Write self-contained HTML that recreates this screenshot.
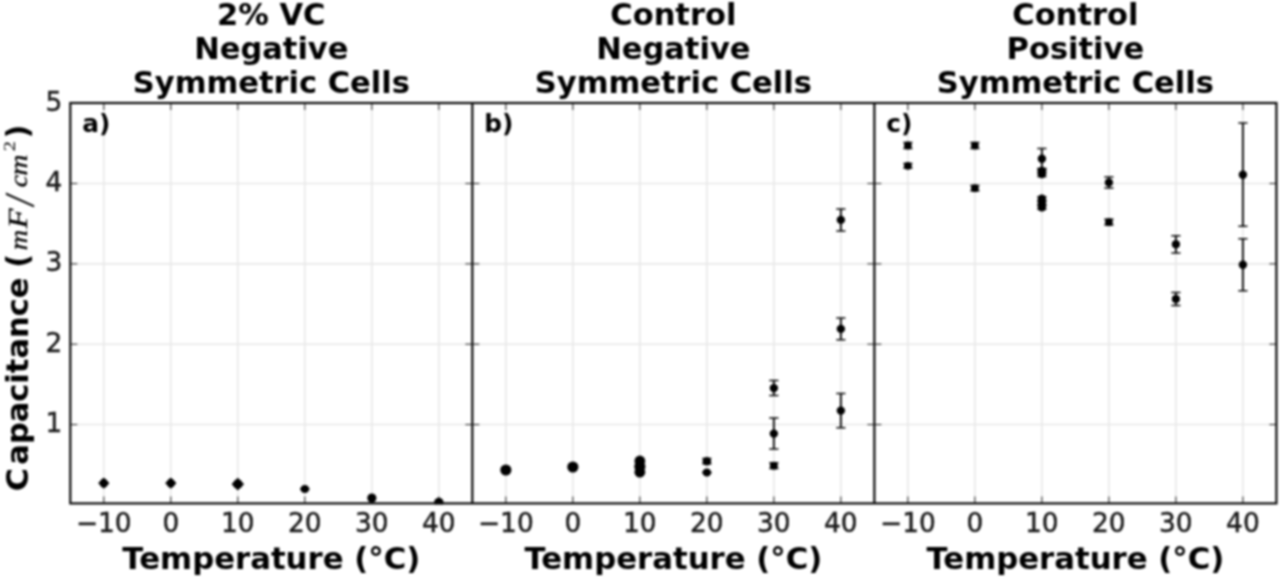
<!DOCTYPE html>
<html lang="en"><head><meta charset="utf-8"><title>Capacitance vs Temperature</title>
<style>html,body{margin:0;padding:0;background:#fff}body{width:1280px;height:578px;overflow:hidden}svg{display:block;filter:blur(0.8px)}</style>
</head><body>
<svg width="1280" height="578" viewBox="0 0 1280 578">
<rect width="1280" height="578" fill="#fff"/>
<g stroke="#e8e8e8" stroke-width="1.6" fill="none">
<line x1="103.80" y1="103.0" x2="103.80" y2="503.4"/>
<line x1="170.81" y1="103.0" x2="170.81" y2="503.4"/>
<line x1="237.81" y1="103.0" x2="237.81" y2="503.4"/>
<line x1="304.82" y1="103.0" x2="304.82" y2="503.4"/>
<line x1="371.83" y1="103.0" x2="371.83" y2="503.4"/>
<line x1="438.83" y1="103.0" x2="438.83" y2="503.4"/>
<line x1="505.84" y1="103.0" x2="505.84" y2="503.4"/>
<line x1="572.84" y1="103.0" x2="572.84" y2="503.4"/>
<line x1="639.85" y1="103.0" x2="639.85" y2="503.4"/>
<line x1="706.85" y1="103.0" x2="706.85" y2="503.4"/>
<line x1="773.86" y1="103.0" x2="773.86" y2="503.4"/>
<line x1="840.86" y1="103.0" x2="840.86" y2="503.4"/>
<line x1="907.87" y1="103.0" x2="907.87" y2="503.4"/>
<line x1="974.88" y1="103.0" x2="974.88" y2="503.4"/>
<line x1="1041.88" y1="103.0" x2="1041.88" y2="503.4"/>
<line x1="1108.89" y1="103.0" x2="1108.89" y2="503.4"/>
<line x1="1175.89" y1="103.0" x2="1175.89" y2="503.4"/>
<line x1="1242.90" y1="103.0" x2="1242.90" y2="503.4"/>
<line x1="70.3" y1="424.55" x2="1276.4" y2="424.55"/>
<line x1="70.3" y1="344.20" x2="1276.4" y2="344.20"/>
<line x1="70.3" y1="263.85" x2="1276.4" y2="263.85"/>
<line x1="70.3" y1="183.50" x2="1276.4" y2="183.50"/>
</g>
<g stroke="#333" stroke-width="1.1" fill="none">
<line x1="103.80" y1="103.0" x2="103.80" y2="110.0"/>
<line x1="103.80" y1="503.4" x2="103.80" y2="496.4"/>
<line x1="170.81" y1="103.0" x2="170.81" y2="110.0"/>
<line x1="170.81" y1="503.4" x2="170.81" y2="496.4"/>
<line x1="237.81" y1="103.0" x2="237.81" y2="110.0"/>
<line x1="237.81" y1="503.4" x2="237.81" y2="496.4"/>
<line x1="304.82" y1="103.0" x2="304.82" y2="110.0"/>
<line x1="304.82" y1="503.4" x2="304.82" y2="496.4"/>
<line x1="371.83" y1="103.0" x2="371.83" y2="110.0"/>
<line x1="371.83" y1="503.4" x2="371.83" y2="496.4"/>
<line x1="438.83" y1="103.0" x2="438.83" y2="110.0"/>
<line x1="438.83" y1="503.4" x2="438.83" y2="496.4"/>
<line x1="70.30" y1="424.55" x2="77.30" y2="424.55"/>
<line x1="472.33" y1="424.55" x2="465.33" y2="424.55"/>
<line x1="70.30" y1="344.20" x2="77.30" y2="344.20"/>
<line x1="472.33" y1="344.20" x2="465.33" y2="344.20"/>
<line x1="70.30" y1="263.85" x2="77.30" y2="263.85"/>
<line x1="472.33" y1="263.85" x2="465.33" y2="263.85"/>
<line x1="70.30" y1="183.50" x2="77.30" y2="183.50"/>
<line x1="472.33" y1="183.50" x2="465.33" y2="183.50"/>
<line x1="505.84" y1="103.0" x2="505.84" y2="110.0"/>
<line x1="505.84" y1="503.4" x2="505.84" y2="496.4"/>
<line x1="572.84" y1="103.0" x2="572.84" y2="110.0"/>
<line x1="572.84" y1="503.4" x2="572.84" y2="496.4"/>
<line x1="639.85" y1="103.0" x2="639.85" y2="110.0"/>
<line x1="639.85" y1="503.4" x2="639.85" y2="496.4"/>
<line x1="706.85" y1="103.0" x2="706.85" y2="110.0"/>
<line x1="706.85" y1="503.4" x2="706.85" y2="496.4"/>
<line x1="773.86" y1="103.0" x2="773.86" y2="110.0"/>
<line x1="773.86" y1="503.4" x2="773.86" y2="496.4"/>
<line x1="840.86" y1="103.0" x2="840.86" y2="110.0"/>
<line x1="840.86" y1="503.4" x2="840.86" y2="496.4"/>
<line x1="472.33" y1="424.55" x2="479.33" y2="424.55"/>
<line x1="874.37" y1="424.55" x2="867.37" y2="424.55"/>
<line x1="472.33" y1="344.20" x2="479.33" y2="344.20"/>
<line x1="874.37" y1="344.20" x2="867.37" y2="344.20"/>
<line x1="472.33" y1="263.85" x2="479.33" y2="263.85"/>
<line x1="874.37" y1="263.85" x2="867.37" y2="263.85"/>
<line x1="472.33" y1="183.50" x2="479.33" y2="183.50"/>
<line x1="874.37" y1="183.50" x2="867.37" y2="183.50"/>
<line x1="907.87" y1="103.0" x2="907.87" y2="110.0"/>
<line x1="907.87" y1="503.4" x2="907.87" y2="496.4"/>
<line x1="974.88" y1="103.0" x2="974.88" y2="110.0"/>
<line x1="974.88" y1="503.4" x2="974.88" y2="496.4"/>
<line x1="1041.88" y1="103.0" x2="1041.88" y2="110.0"/>
<line x1="1041.88" y1="503.4" x2="1041.88" y2="496.4"/>
<line x1="1108.89" y1="103.0" x2="1108.89" y2="110.0"/>
<line x1="1108.89" y1="503.4" x2="1108.89" y2="496.4"/>
<line x1="1175.89" y1="103.0" x2="1175.89" y2="110.0"/>
<line x1="1175.89" y1="503.4" x2="1175.89" y2="496.4"/>
<line x1="1242.90" y1="103.0" x2="1242.90" y2="110.0"/>
<line x1="1242.90" y1="503.4" x2="1242.90" y2="496.4"/>
<line x1="874.37" y1="424.55" x2="881.37" y2="424.55"/>
<line x1="1276.40" y1="424.55" x2="1269.40" y2="424.55"/>
<line x1="874.37" y1="344.20" x2="881.37" y2="344.20"/>
<line x1="1276.40" y1="344.20" x2="1269.40" y2="344.20"/>
<line x1="874.37" y1="263.85" x2="881.37" y2="263.85"/>
<line x1="1276.40" y1="263.85" x2="1269.40" y2="263.85"/>
<line x1="874.37" y1="183.50" x2="881.37" y2="183.50"/>
<line x1="1276.40" y1="183.50" x2="1269.40" y2="183.50"/>
</g>
<defs><clipPath id="clip"><rect x="70.30" y="103.00" width="1206.10" height="401.40"/></clipPath></defs>
<g clip-path="url(#clip)">
<g stroke="#0a0a0a" stroke-width="1.5" fill="none">
<path d="M103.80 477.90V488.30M98.60 483.10H109.00" stroke-width="2.4"/>
<path d="M170.81 477.90V488.30M165.61 483.10H176.01" stroke-width="2.4"/>
<path d="M237.81 478.30V489.90M232.01 484.10H243.61" stroke-width="2.4"/>
<path d="M304.82 488.60V489.40" stroke-width="1.9"/><path d="M300.22 488.60H309.42M300.22 489.40H309.42"/>
<path d="M706.85 458.60V463.80" stroke-width="1.9"/><path d="M702.25 458.60H711.45M702.25 463.80H711.45"/>
<path d="M706.85 471.90V473.10" stroke-width="1.9"/><path d="M702.25 471.90H711.45M702.25 473.10H711.45"/>
<path d="M773.86 380.60V395.60" stroke-width="1.9"/><path d="M769.26 380.60H778.46M769.26 395.60H778.46"/>
<path d="M773.86 418.10V449.10" stroke-width="1.9"/><path d="M769.26 418.10H778.46M769.26 449.10H778.46"/>
<path d="M773.86 462.80V468.60" stroke-width="1.9"/><path d="M769.26 462.80H778.46M769.26 468.60H778.46"/>
<path d="M840.86 208.90V230.90" stroke-width="1.9"/><path d="M836.26 208.90H845.46M836.26 230.90H845.46"/>
<path d="M840.86 318.10V339.70" stroke-width="1.9"/><path d="M836.26 318.10H845.46M836.26 339.70H845.46"/>
<path d="M840.86 393.40V427.80" stroke-width="1.9"/><path d="M836.26 393.40H845.46M836.26 427.80H845.46"/>
<path d="M907.87 142.50V148.50" stroke-width="1.9"/><path d="M903.27 142.50H912.47M903.27 148.50H912.47"/>
<path d="M907.87 163.50V168.10" stroke-width="1.9"/><path d="M903.27 163.50H912.47M903.27 168.10H912.47"/>
<path d="M974.88 142.60V148.60" stroke-width="1.9"/><path d="M970.27 142.60H979.48M970.27 148.60H979.48"/>
<path d="M974.88 185.60V190.80" stroke-width="1.9"/><path d="M970.27 185.60H979.48M970.27 190.80H979.48"/>
<path d="M1041.88 148.40V169.20" stroke-width="1.9"/><path d="M1037.28 148.40H1046.48M1037.28 169.20H1046.48"/>
<path d="M1041.88 168.40V173.60" stroke-width="1.9"/><path d="M1037.28 168.40H1046.48M1037.28 173.60H1046.48"/>
<path d="M1041.88 171.40V176.60" stroke-width="1.9"/><path d="M1037.28 171.40H1046.48M1037.28 176.60H1046.48"/>
<path d="M1041.88 196.80V200.80" stroke-width="1.9"/><path d="M1037.28 196.80H1046.48M1037.28 200.80H1046.48"/>
<path d="M1041.88 201.00V205.00" stroke-width="1.9"/><path d="M1037.28 201.00H1046.48M1037.28 205.00H1046.48"/>
<path d="M1041.88 205.30V209.30" stroke-width="1.9"/><path d="M1037.28 205.30H1046.48M1037.28 209.30H1046.48"/>
<path d="M1108.89 177.10V188.10" stroke-width="1.9"/><path d="M1104.29 177.10H1113.49M1104.29 188.10H1113.49"/>
<path d="M1108.89 219.30V225.10" stroke-width="1.9"/><path d="M1104.29 219.30H1113.49M1104.29 225.10H1113.49"/>
<path d="M1175.89 235.70V252.90" stroke-width="1.9"/><path d="M1171.29 235.70H1180.49M1171.29 252.90H1180.49"/>
<path d="M1175.89 292.60V305.40" stroke-width="1.9"/><path d="M1171.29 292.60H1180.49M1171.29 305.40H1180.49"/>
<path d="M1242.90 123.10V226.30" stroke-width="1.9"/><path d="M1238.30 123.10H1247.50M1238.30 226.30H1247.50"/>
<path d="M1242.90 238.80V290.80" stroke-width="1.9"/><path d="M1238.30 238.80H1247.50M1238.30 290.80H1247.50"/>
</g>
<g fill="#000">
<circle cx="103.80" cy="483.10" r="4.3"/>
<circle cx="170.81" cy="483.10" r="4.3"/>
<circle cx="237.81" cy="484.10" r="4.9"/>
<circle cx="304.82" cy="489.00" r="4.0"/>
<circle cx="371.83" cy="498.00" r="4.6"/>
<circle cx="438.83" cy="502.60" r="4.8"/>
<circle cx="505.84" cy="470.00" r="5.6"/>
<circle cx="572.84" cy="467.00" r="5.6"/>
<circle cx="639.85" cy="461.00" r="5.4"/>
<circle cx="639.85" cy="466.60" r="5.6"/>
<circle cx="639.85" cy="472.20" r="5.4"/>
<circle cx="706.85" cy="461.20" r="4.3"/>
<circle cx="706.85" cy="472.50" r="4.0"/>
<circle cx="773.86" cy="388.10" r="4.2"/>
<circle cx="773.86" cy="433.60" r="4.2"/>
<circle cx="773.86" cy="465.70" r="4.0"/>
<circle cx="840.86" cy="219.90" r="4.2"/>
<circle cx="840.86" cy="328.90" r="4.2"/>
<circle cx="840.86" cy="410.60" r="4.2"/>
<circle cx="907.87" cy="145.50" r="3.9"/>
<circle cx="907.87" cy="165.80" r="3.9"/>
<circle cx="974.88" cy="145.60" r="3.9"/>
<circle cx="974.88" cy="188.20" r="3.9"/>
<circle cx="1041.88" cy="158.80" r="4.2"/>
<circle cx="1041.88" cy="171.00" r="4.2"/>
<circle cx="1041.88" cy="174.00" r="4.2"/>
<circle cx="1041.88" cy="198.80" r="4.2"/>
<circle cx="1041.88" cy="203.00" r="4.2"/>
<circle cx="1041.88" cy="207.30" r="4.2"/>
<circle cx="1108.89" cy="182.60" r="4.1"/>
<circle cx="1108.89" cy="222.20" r="3.9"/>
<circle cx="1175.89" cy="244.30" r="4.1"/>
<circle cx="1175.89" cy="299.00" r="4.1"/>
<circle cx="1242.90" cy="174.70" r="4.2"/>
<circle cx="1242.90" cy="264.80" r="4.2"/>
</g></g>
<g stroke="#0a0a0a" stroke-width="2.2" fill="none">
<rect x="70.3" y="103.0" width="1206.10" height="400.40"/>
<line x1="472.33" y1="103.0" x2="472.33" y2="503.4"/>
<line x1="874.37" y1="103.0" x2="874.37" y2="503.4"/>
</g>
<g font-family="'DejaVu Sans', 'Liberation Sans', sans-serif" fill="#000">
<g font-weight="bold" font-size="30.5" text-anchor="middle">
<text x="271.32" y="24.7">2% VC</text>
<text x="271.32" y="58.6">Negative</text>
<text x="271.32" y="92.6">Symmetric Cells</text>
<text x="271.32" y="569.2" font-size="30.75">Temperature (°C)</text>
<text x="673.35" y="24.7">Control</text>
<text x="673.35" y="58.6">Negative</text>
<text x="673.35" y="92.6">Symmetric Cells</text>
<text x="673.35" y="569.2" font-size="30.75">Temperature (°C)</text>
<text x="1075.38" y="24.7">Control</text>
<text x="1075.38" y="58.6">Positive</text>
<text x="1075.38" y="92.6">Symmetric Cells</text>
<text x="1075.38" y="569.2" font-size="30.75">Temperature (°C)</text>
</g>
<g font-size="26.4" text-anchor="middle" fill="#1a1a1a" stroke="#1a1a1a" stroke-width="0.45">
<text x="103.80" y="531.5">−10</text>
<text x="170.81" y="531.5">0</text>
<text x="237.81" y="531.5">10</text>
<text x="304.82" y="531.5">20</text>
<text x="371.83" y="531.5">30</text>
<text x="438.83" y="531.5">40</text>
<text x="505.84" y="531.5">−10</text>
<text x="572.84" y="531.5">0</text>
<text x="639.85" y="531.5">10</text>
<text x="706.85" y="531.5">20</text>
<text x="773.86" y="531.5">30</text>
<text x="840.86" y="531.5">40</text>
<text x="907.87" y="531.5">−10</text>
<text x="974.88" y="531.5">0</text>
<text x="1041.88" y="531.5">10</text>
<text x="1108.89" y="531.5">20</text>
<text x="1175.89" y="531.5">30</text>
<text x="1242.90" y="531.5">40</text>
</g>
<g font-size="26.4" text-anchor="end" fill="#1a1a1a" stroke="#1a1a1a" stroke-width="0.45">
<text x="62.4" y="432.05">1</text>
<text x="62.4" y="351.70">2</text>
<text x="62.4" y="271.35">3</text>
<text x="62.4" y="191.00">4</text>
<text x="62.4" y="110.65">5</text>
</g>
<g font-weight="bold" font-size="24.8">
<text x="82.20" y="131.6">a)</text>
<text x="484.23" y="131.6">b)</text>
<text x="886.27" y="131.6">c)</text>
</g>
<g transform="translate(28.0 492.0) rotate(-90)">
<text x="0.8" y="0" font-weight="bold" font-size="30.5" textLength="23.4" lengthAdjust="spacingAndGlyphs">C</text>
<text x="27.3" y="0" font-weight="bold" font-size="30.5">apacitance</text>
<text x="224.2" y="0" font-weight="bold" font-size="30.5">(</text>
<text x="241.8" y="-0.6" font-family="'Liberation Serif', serif" font-style="italic" stroke="#000" stroke-width="0.25" font-size="25.7" textLength="20.5" lengthAdjust="spacingAndGlyphs">m</text>
<text x="263.6" y="-0.6" font-family="'Liberation Serif', serif" font-style="italic" stroke="#000" stroke-width="0.25" font-size="26.6" textLength="20.0" lengthAdjust="spacingAndGlyphs">F</text>
<text x="286.4" y="6.4" font-family="'Liberation Serif', serif" font-style="italic" stroke="#000" stroke-width="0.25" font-size="42.5" textLength="10" lengthAdjust="spacingAndGlyphs">/</text>
<text x="304.8" y="-0.6" font-family="'Liberation Serif', serif" font-style="italic" stroke="#000" stroke-width="0.25" font-size="25.7" textLength="12.3" lengthAdjust="spacingAndGlyphs">c</text>
<text x="316.4" y="-0.6" font-family="'Liberation Serif', serif" font-style="italic" stroke="#000" stroke-width="0.25" font-size="25.7" textLength="21" lengthAdjust="spacingAndGlyphs">m</text>
<text x="340.5" y="-13.3" font-family="'Liberation Serif', serif" font-size="17.5" textLength="10.5" lengthAdjust="spacingAndGlyphs">2</text>
<text x="353.6" y="0" font-weight="bold" font-size="30.5">)</text>
</g>
</g>
</svg>
</body></html>
